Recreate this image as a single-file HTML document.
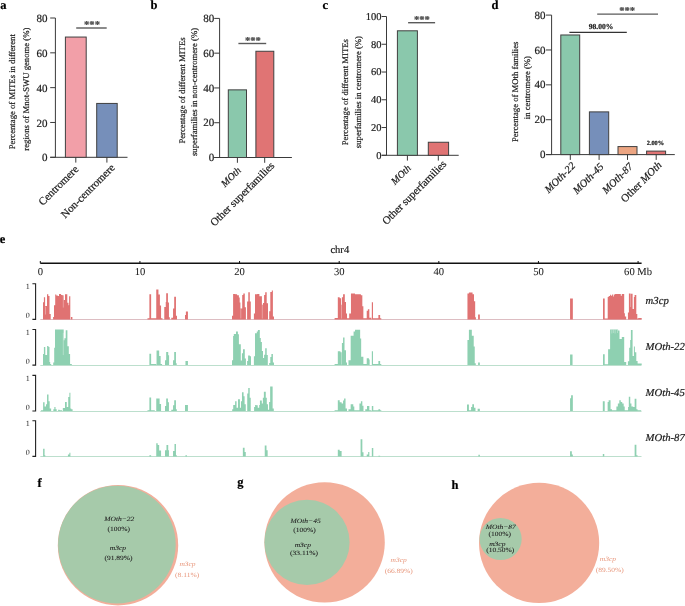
<!DOCTYPE html>
<html><head><meta charset="utf-8"><style>
html,body{margin:0;padding:0;background:#fff;width:685px;height:606px;overflow:hidden}
svg{display:block}
text{text-rendering:geometricPrecision}
</style></head><body>
<svg width="685" height="606" viewBox="0 0 685 606" font-family="'Liberation Serif', 'Times New Roman', serif">
<rect width="685" height="606" fill="#ffffff"/>
<text x="0.30" y="8.90" font-size="12.5" font-weight="bold" fill="#000" stroke="#000" stroke-width="0.2">a</text>
<text x="150.60" y="8.90" font-size="12.5" font-weight="bold" fill="#000" stroke="#000" stroke-width="0.2">b</text>
<text x="322.40" y="8.90" font-size="12.5" font-weight="bold" fill="#000" stroke="#000" stroke-width="0.2">c</text>
<text x="491.50" y="8.90" font-size="12.5" font-weight="bold" fill="#000" stroke="#000" stroke-width="0.2">d</text>
<text x="-0.20" y="242.90" font-size="12.5" font-weight="bold" fill="#000" stroke="#000" stroke-width="0.2">e</text>
<text x="37.60" y="486.70" font-size="12.5" font-weight="bold" fill="#000" stroke="#000" stroke-width="0.2">f</text>
<text x="237.30" y="486.00" font-size="12.5" font-weight="bold" fill="#000" stroke="#000" stroke-width="0.2">g</text>
<text x="451.60" y="488.90" font-size="12.5" font-weight="bold" fill="#000" stroke="#000" stroke-width="0.2">h</text>
<line x1="55.40" y1="18.00" x2="55.40" y2="157.30" stroke="#3a3a3a" stroke-width="1.0"/>
<line x1="50.20" y1="157.30" x2="55.40" y2="157.30" stroke="#3a3a3a" stroke-width="1.0"/>
<text x="47.60" y="161.40" font-size="11" text-anchor="end" fill="#1a1a1a" stroke="#1a1a1a" stroke-width="0.2">0</text>
<line x1="50.20" y1="122.48" x2="55.40" y2="122.48" stroke="#3a3a3a" stroke-width="1.0"/>
<text x="47.60" y="126.58" font-size="11" text-anchor="end" fill="#1a1a1a" stroke="#1a1a1a" stroke-width="0.2">20</text>
<line x1="50.20" y1="87.65" x2="55.40" y2="87.65" stroke="#3a3a3a" stroke-width="1.0"/>
<text x="47.60" y="91.75" font-size="11" text-anchor="end" fill="#1a1a1a" stroke="#1a1a1a" stroke-width="0.2">40</text>
<line x1="50.20" y1="52.83" x2="55.40" y2="52.83" stroke="#3a3a3a" stroke-width="1.0"/>
<text x="47.60" y="56.93" font-size="11" text-anchor="end" fill="#1a1a1a" stroke="#1a1a1a" stroke-width="0.2">60</text>
<line x1="50.20" y1="18.00" x2="55.40" y2="18.00" stroke="#3a3a3a" stroke-width="1.0"/>
<text x="47.60" y="22.10" font-size="11" text-anchor="end" fill="#1a1a1a" stroke="#1a1a1a" stroke-width="0.2">80</text>
<line x1="50.20" y1="157.30" x2="127.50" y2="157.30" stroke="#3a3a3a" stroke-width="1.0"/>
<rect x="65.40" y="37.05" width="20.80" height="120.25" fill="#F29FA8" stroke="#404040" stroke-width="1.0"/>
<rect x="96.70" y="103.43" width="20.50" height="53.87" fill="#768FBA" stroke="#404040" stroke-width="1.0"/>
<line x1="75.80" y1="157.30" x2="75.80" y2="162.60" stroke="#3a3a3a" stroke-width="1.0"/>
<line x1="106.90" y1="157.30" x2="106.90" y2="162.60" stroke="#3a3a3a" stroke-width="1.0"/>
<line x1="76.20" y1="28.00" x2="106.70" y2="28.00" stroke="#5a5a5a" stroke-width="1.4"/>
<text x="92.00" y="28.10" font-size="10.6" text-anchor="middle" font-weight="bold" fill="#444" stroke="#444" stroke-width="0.2">***</text>
<text transform="translate(15.30,91.70) rotate(-90)" text-anchor="middle" font-size="8.7" fill="#1a1a1a" stroke="#1a1a1a" stroke-width="0.2">Percentage of MITEs in different</text>
<text transform="translate(29.00,89.20) rotate(-90)" text-anchor="middle" font-size="8.7" fill="#1a1a1a" stroke="#1a1a1a" stroke-width="0.2">regions of Mnot-SWU genome (%)</text>
<text transform="translate(79.05,169.90) rotate(-45)" text-anchor="end" font-size="10.85" fill="#1a1a1a" stroke="#1a1a1a" stroke-width="0.2">Centromere</text>
<text transform="translate(115.45,168.40) rotate(-45)" text-anchor="end" font-size="10.85" fill="#1a1a1a" stroke="#1a1a1a" stroke-width="0.2">Non-centromere</text>
<line x1="219.60" y1="18.40" x2="219.60" y2="157.50" stroke="#3a3a3a" stroke-width="1.0"/>
<line x1="214.20" y1="157.50" x2="219.60" y2="157.50" stroke="#3a3a3a" stroke-width="1.0"/>
<text x="214.30" y="161.20" font-size="11" text-anchor="end" fill="#1a1a1a" stroke="#1a1a1a" stroke-width="0.2">0</text>
<line x1="214.20" y1="122.72" x2="219.60" y2="122.72" stroke="#3a3a3a" stroke-width="1.0"/>
<text x="214.30" y="126.42" font-size="11" text-anchor="end" fill="#1a1a1a" stroke="#1a1a1a" stroke-width="0.2">20</text>
<line x1="214.20" y1="87.95" x2="219.60" y2="87.95" stroke="#3a3a3a" stroke-width="1.0"/>
<text x="214.30" y="91.65" font-size="11" text-anchor="end" fill="#1a1a1a" stroke="#1a1a1a" stroke-width="0.2">40</text>
<line x1="214.20" y1="53.17" x2="219.60" y2="53.17" stroke="#3a3a3a" stroke-width="1.0"/>
<text x="214.30" y="56.88" font-size="11" text-anchor="end" fill="#1a1a1a" stroke="#1a1a1a" stroke-width="0.2">60</text>
<line x1="214.20" y1="18.40" x2="219.60" y2="18.40" stroke="#3a3a3a" stroke-width="1.0"/>
<text x="214.30" y="22.10" font-size="11" text-anchor="end" fill="#1a1a1a" stroke="#1a1a1a" stroke-width="0.2">80</text>
<line x1="214.20" y1="157.50" x2="291.90" y2="157.50" stroke="#3a3a3a" stroke-width="1.0"/>
<rect x="228.30" y="89.86" width="18.20" height="67.64" fill="#8AC8AC" stroke="#404040" stroke-width="1.0"/>
<rect x="255.90" y="51.26" width="17.90" height="106.24" fill="#E07474" stroke="#404040" stroke-width="1.0"/>
<line x1="237.40" y1="157.50" x2="237.40" y2="162.80" stroke="#3a3a3a" stroke-width="1.0"/>
<line x1="264.70" y1="157.50" x2="264.70" y2="162.80" stroke="#3a3a3a" stroke-width="1.0"/>
<line x1="238.40" y1="43.50" x2="266.20" y2="43.50" stroke="#5a5a5a" stroke-width="1.4"/>
<text x="252.90" y="43.50" font-size="10.6" text-anchor="middle" font-weight="bold" fill="#444" stroke="#444" stroke-width="0.2">***</text>
<text transform="translate(184.60,90.50) rotate(-90)" text-anchor="middle" font-size="8.7" fill="#1a1a1a" stroke="#1a1a1a" stroke-width="0.2">Percentage of different MITEs</text>
<text transform="translate(196.90,92.00) rotate(-90)" text-anchor="middle" font-size="8.7" fill="#1a1a1a" stroke="#1a1a1a" stroke-width="0.2">superfamilies in non-centromere (%)</text>
<text transform="translate(241.60,170.90) rotate(-45)" text-anchor="end" font-size="10" fill="#1a1a1a" stroke="#1a1a1a" stroke-width="0.2"><tspan font-style="italic">MOth</tspan></text>
<text transform="translate(275.10,166.15) rotate(-45)" text-anchor="end" font-size="10.85" fill="#1a1a1a" stroke="#1a1a1a" stroke-width="0.2">Other superfamilies</text>
<line x1="386.50" y1="16.50" x2="386.50" y2="155.30" stroke="#3a3a3a" stroke-width="1.0"/>
<line x1="381.70" y1="155.30" x2="386.50" y2="155.30" stroke="#3a3a3a" stroke-width="1.0"/>
<text x="381.50" y="158.60" font-size="10.5" text-anchor="end" fill="#1a1a1a" stroke="#1a1a1a" stroke-width="0.2">0</text>
<line x1="381.70" y1="127.54" x2="386.50" y2="127.54" stroke="#3a3a3a" stroke-width="1.0"/>
<text x="381.50" y="130.84" font-size="10.5" text-anchor="end" fill="#1a1a1a" stroke="#1a1a1a" stroke-width="0.2">20</text>
<line x1="381.70" y1="99.78" x2="386.50" y2="99.78" stroke="#3a3a3a" stroke-width="1.0"/>
<text x="381.50" y="103.08" font-size="10.5" text-anchor="end" fill="#1a1a1a" stroke="#1a1a1a" stroke-width="0.2">40</text>
<line x1="381.70" y1="72.02" x2="386.50" y2="72.02" stroke="#3a3a3a" stroke-width="1.0"/>
<text x="381.50" y="75.32" font-size="10.5" text-anchor="end" fill="#1a1a1a" stroke="#1a1a1a" stroke-width="0.2">60</text>
<line x1="381.70" y1="44.26" x2="386.50" y2="44.26" stroke="#3a3a3a" stroke-width="1.0"/>
<text x="381.50" y="47.56" font-size="10.5" text-anchor="end" fill="#1a1a1a" stroke="#1a1a1a" stroke-width="0.2">80</text>
<line x1="381.70" y1="16.50" x2="386.50" y2="16.50" stroke="#3a3a3a" stroke-width="1.0"/>
<text x="381.50" y="19.80" font-size="10.5" text-anchor="end" fill="#1a1a1a" stroke="#1a1a1a" stroke-width="0.2">100</text>
<line x1="381.70" y1="155.30" x2="458.70" y2="155.30" stroke="#3a3a3a" stroke-width="1.0"/>
<rect x="397.40" y="30.80" width="20.00" height="124.50" fill="#8AC8AC" stroke="#404040" stroke-width="1.0"/>
<rect x="428.30" y="142.25" width="20.30" height="13.05" fill="#E07474" stroke="#404040" stroke-width="1.0"/>
<line x1="407.40" y1="155.30" x2="407.40" y2="160.60" stroke="#3a3a3a" stroke-width="1.0"/>
<line x1="438.30" y1="155.30" x2="438.30" y2="160.60" stroke="#3a3a3a" stroke-width="1.0"/>
<line x1="408.10" y1="22.70" x2="435.10" y2="22.70" stroke="#5a5a5a" stroke-width="1.4"/>
<text x="421.90" y="22.80" font-size="10.6" text-anchor="middle" font-weight="bold" fill="#444" stroke="#444" stroke-width="0.2">***</text>
<text transform="translate(348.00,92.20) rotate(-90)" text-anchor="middle" font-size="8.7" fill="#1a1a1a" stroke="#1a1a1a" stroke-width="0.2">Percentage of different MITEs</text>
<text transform="translate(361.00,92.10) rotate(-90)" text-anchor="middle" font-size="8.7" fill="#1a1a1a" stroke="#1a1a1a" stroke-width="0.2">superfamilies in centromere (%)</text>
<text transform="translate(411.60,168.70) rotate(-45)" text-anchor="end" font-size="10" fill="#1a1a1a" stroke="#1a1a1a" stroke-width="0.2"><tspan font-style="italic">MOth</tspan></text>
<text transform="translate(447.10,164.55) rotate(-45)" text-anchor="end" font-size="10.85" fill="#1a1a1a" stroke="#1a1a1a" stroke-width="0.2">Other superfamilies</text>
<line x1="551.60" y1="15.10" x2="551.60" y2="154.60" stroke="#3a3a3a" stroke-width="1.0"/>
<line x1="546.00" y1="154.60" x2="551.60" y2="154.60" stroke="#3a3a3a" stroke-width="1.0"/>
<text x="545.60" y="158.15" font-size="11" text-anchor="end" fill="#1a1a1a" stroke="#1a1a1a" stroke-width="0.2">0</text>
<line x1="546.00" y1="119.72" x2="551.60" y2="119.72" stroke="#3a3a3a" stroke-width="1.0"/>
<text x="545.60" y="123.27" font-size="11" text-anchor="end" fill="#1a1a1a" stroke="#1a1a1a" stroke-width="0.2">20</text>
<line x1="546.00" y1="84.85" x2="551.60" y2="84.85" stroke="#3a3a3a" stroke-width="1.0"/>
<text x="545.60" y="88.40" font-size="11" text-anchor="end" fill="#1a1a1a" stroke="#1a1a1a" stroke-width="0.2">40</text>
<line x1="546.00" y1="49.97" x2="551.60" y2="49.97" stroke="#3a3a3a" stroke-width="1.0"/>
<text x="545.60" y="53.52" font-size="11" text-anchor="end" fill="#1a1a1a" stroke="#1a1a1a" stroke-width="0.2">60</text>
<line x1="546.00" y1="15.10" x2="551.60" y2="15.10" stroke="#3a3a3a" stroke-width="1.0"/>
<text x="545.60" y="18.65" font-size="11" text-anchor="end" fill="#1a1a1a" stroke="#1a1a1a" stroke-width="0.2">80</text>
<line x1="546.00" y1="154.60" x2="674.80" y2="154.60" stroke="#3a3a3a" stroke-width="1.0"/>
<rect x="560.80" y="34.98" width="18.90" height="119.62" fill="#8AC8AC" stroke="#404040" stroke-width="1.0"/>
<rect x="589.40" y="111.88" width="19.30" height="42.72" fill="#768FBA" stroke="#404040" stroke-width="1.0"/>
<rect x="618.00" y="146.58" width="19.00" height="8.02" fill="#ECA582" stroke="#404040" stroke-width="1.0"/>
<rect x="646.60" y="151.11" width="19.00" height="3.49" fill="#E07474" stroke="#404040" stroke-width="1.0"/>
<line x1="570.30" y1="154.60" x2="570.30" y2="159.90" stroke="#3a3a3a" stroke-width="1.0"/>
<line x1="599.10" y1="154.60" x2="599.10" y2="159.90" stroke="#3a3a3a" stroke-width="1.0"/>
<line x1="627.50" y1="154.60" x2="627.50" y2="159.90" stroke="#3a3a3a" stroke-width="1.0"/>
<line x1="656.20" y1="154.60" x2="656.20" y2="159.90" stroke="#3a3a3a" stroke-width="1.0"/>
<line x1="569.40" y1="32.40" x2="626.80" y2="32.40" stroke="#333" stroke-width="1.3"/>
<text x="601.10" y="28.60" font-size="7.6" text-anchor="middle" font-weight="bold" fill="#222" stroke="#222" stroke-width="0.2">98.00%</text>
<line x1="597.20" y1="14.10" x2="658.00" y2="14.10" stroke="#5a5a5a" stroke-width="1.4"/>
<text x="627.10" y="14.30" font-size="10.6" text-anchor="middle" font-weight="bold" fill="#444" stroke="#444" stroke-width="0.2">***</text>
<text x="655.40" y="145.00" font-size="6.3" text-anchor="middle" font-weight="bold" fill="#222" stroke="#222" stroke-width="0.2">2.00%</text>
<text transform="translate(518.00,91.80) rotate(-90)" text-anchor="middle" font-size="8.7" fill="#1a1a1a" stroke="#1a1a1a" stroke-width="0.2">Percentage of MOth families</text>
<text transform="translate(530.20,87.60) rotate(-90)" text-anchor="middle" font-size="8.7" fill="#1a1a1a" stroke="#1a1a1a" stroke-width="0.2">in centromere (%)</text>
<text transform="translate(576.00,166.40) rotate(-45)" text-anchor="end" font-size="10.5" fill="#1a1a1a" stroke="#1a1a1a" stroke-width="0.2"><tspan font-style="italic">MOth-22</tspan></text>
<text transform="translate(604.20,167.40) rotate(-45)" text-anchor="end" font-size="10.5" fill="#1a1a1a" stroke="#1a1a1a" stroke-width="0.2"><tspan font-style="italic">MOth-45</tspan></text>
<text transform="translate(633.50,167.10) rotate(-45)" text-anchor="end" font-size="10.5" fill="#1a1a1a" stroke="#1a1a1a" stroke-width="0.2"><tspan font-style="italic">MOth-87</tspan></text>
<text transform="translate(662.35,165.75) rotate(-45)" text-anchor="end" font-size="10.85" fill="#1a1a1a" stroke="#1a1a1a" stroke-width="0.2">Other <tspan font-style="italic">MOth</tspan></text>
<text x="339.80" y="253.00" font-size="10.6" text-anchor="middle" fill="#1a1a1a" stroke="#1a1a1a" stroke-width="0.2">chr4</text>
<line x1="40.30" y1="263.30" x2="641.60" y2="263.30" stroke="#111" stroke-width="1.4"/>
<line x1="40.30" y1="261.00" x2="40.30" y2="263.30" stroke="#111" stroke-width="1.0"/>
<text x="40.30" y="274.90" font-size="10.6" text-anchor="middle" fill="#1a1a1a" stroke="#1a1a1a" stroke-width="0.05">0</text>
<line x1="139.93" y1="261.00" x2="139.93" y2="263.30" stroke="#111" stroke-width="1.0"/>
<text x="139.93" y="274.90" font-size="10.6" text-anchor="middle" fill="#1a1a1a" stroke="#1a1a1a" stroke-width="0.05">10</text>
<line x1="239.56" y1="261.00" x2="239.56" y2="263.30" stroke="#111" stroke-width="1.0"/>
<text x="239.56" y="274.90" font-size="10.6" text-anchor="middle" fill="#1a1a1a" stroke="#1a1a1a" stroke-width="0.05">20</text>
<line x1="339.19" y1="261.00" x2="339.19" y2="263.30" stroke="#111" stroke-width="1.0"/>
<text x="339.19" y="274.90" font-size="10.6" text-anchor="middle" fill="#1a1a1a" stroke="#1a1a1a" stroke-width="0.05">30</text>
<line x1="438.82" y1="261.00" x2="438.82" y2="263.30" stroke="#111" stroke-width="1.0"/>
<text x="438.82" y="274.90" font-size="10.6" text-anchor="middle" fill="#1a1a1a" stroke="#1a1a1a" stroke-width="0.05">40</text>
<line x1="538.45" y1="261.00" x2="538.45" y2="263.30" stroke="#111" stroke-width="1.0"/>
<text x="538.45" y="274.90" font-size="10.6" text-anchor="middle" fill="#1a1a1a" stroke="#1a1a1a" stroke-width="0.05">50</text>
<line x1="638.08" y1="261.00" x2="638.08" y2="263.30" stroke="#111" stroke-width="1.0"/>
<text x="638.08" y="274.90" font-size="10.6" text-anchor="middle" fill="#1a1a1a" stroke="#1a1a1a" stroke-width="0.05">60 Mb</text>
<line x1="40.30" y1="319.50" x2="641.50" y2="319.50" stroke="#DDBDC2" stroke-width="1.0"/>
<path d="M43.00,319.40L43.00,302.20L43.90,302.20L43.90,297.20L45.10,297.20L45.10,306.10L47.00,306.10L47.00,294.20L48.30,294.20L48.30,296.00L49.50,296.00L49.50,314.10L50.70,314.10L50.70,319.40ZM53.10,319.40L53.10,317.10L54.00,317.10L54.00,305.20L55.20,305.20L55.20,294.50L56.30,294.50L56.30,295.40L57.80,295.40L57.80,296.00L59.00,296.00L59.00,293.90L61.10,293.90L61.10,295.10L62.60,295.10L62.60,295.40L63.80,295.40L63.80,299.90L65.00,299.90L65.00,294.20L67.30,294.20L67.30,302.80L68.50,302.80L68.50,305.20L69.10,305.20L69.10,296.30L70.30,296.30L70.30,319.40ZM70.90,319.40L70.90,317.10L72.40,317.10L72.40,319.40ZM147.49,319.40L147.49,318.23L149.39,318.23L149.39,294.30L151.14,294.30L151.14,318.23L156.25,318.23L156.25,289.49L158.44,289.49L158.44,294.60L159.90,294.60L159.90,305.54L161.07,305.54L161.07,318.23L162.53,318.23L162.53,319.40ZM164.28,319.40L164.28,307.00L165.74,307.00L165.74,301.89L166.18,301.89L166.18,293.14L167.93,293.14L167.93,302.62L168.95,302.62L168.95,317.21L169.82,317.21L169.82,319.40ZM171.28,319.40L171.28,317.65L173.04,317.65L173.04,308.46L174.20,308.46L174.20,296.79L175.96,296.79L175.96,315.75L176.98,315.75L176.98,319.40ZM185.01,319.40L185.01,315.02L185.88,315.02L185.88,311.38L187.93,311.38L187.93,319.40ZM232.00,319.40L232.00,315.70L233.10,315.70L233.10,293.90L235.30,293.90L235.30,294.30L237.10,294.30L237.10,295.20L238.90,295.20L238.90,297.40L239.70,297.40L239.70,302.50L240.40,302.50L240.40,308.40L242.20,308.40L242.20,294.90L243.30,294.90L243.30,293.40L244.80,293.40L244.80,307.30L245.90,307.30L245.90,319.40ZM247.10,319.40L247.10,301.40L248.30,301.40L248.30,292.30L249.80,292.30L249.80,301.40L250.80,301.40L250.80,319.40ZM253.90,319.40L253.90,313.50L255.00,313.50L255.00,294.30L257.20,294.30L257.20,294.10L259.40,294.10L259.40,296.30L261.90,296.30L261.90,304.70L263.00,304.70L263.00,302.90L264.10,302.90L264.10,294.90L265.20,294.90L265.20,292.30L266.70,292.30L266.70,303.20L268.00,303.20L268.00,319.40ZM269.20,319.40L269.20,311.30L270.30,311.30L270.30,291.90L271.80,291.90L271.80,290.50L272.90,290.50L272.90,316.40L274.00,316.40L274.00,319.40ZM334.60,319.40L334.60,317.94L337.81,317.94L337.81,297.22L339.71,297.22L339.71,298.24L341.17,298.24L341.17,304.81L341.90,304.81L341.90,297.22L343.07,297.22L343.07,294.16L344.82,294.16L344.82,301.89L345.99,301.89L345.99,313.56L347.01,313.56L347.01,318.23L349.20,318.23L349.20,313.56L350.95,313.56L350.95,293.58L355.04,293.58L355.04,294.16L360.88,294.16L360.88,295.33L362.34,295.33L362.34,306.27L363.36,306.27L363.36,318.23L366.72,318.23L366.72,310.65L367.88,310.65L367.88,309.19L369.34,309.19L369.34,317.65L371.39,317.65L371.39,319.40ZM371.82,319.40L371.82,302.18L372.99,302.18L372.99,318.23L378.39,318.23L378.39,315.02L380.15,315.02L380.15,318.23L381.31,318.23L381.31,319.40ZM467.45,319.40L467.45,293.43L468.91,293.43L468.91,292.41L472.55,292.41L472.55,294.16L474.01,294.16L474.01,301.16L475.18,301.16L475.18,317.21L475.91,317.21L475.91,319.40ZM478.10,319.40L478.10,314.59L479.85,314.59L479.85,319.40ZM570.07,319.40L570.07,298.54L572.85,298.54L572.85,319.40ZM603.00,319.40L603.00,298.40L604.70,298.40L604.70,318.60L607.70,318.60L607.70,297.10L608.70,297.10L608.70,296.10L610.10,296.10L610.10,294.70L611.10,294.70L611.10,295.70L612.10,295.70L612.10,294.50L613.10,294.50L613.10,296.50L613.80,296.50L613.80,294.50L615.10,294.50L615.10,294.10L620.80,294.10L620.80,295.80L621.80,295.80L621.80,294.10L624.20,294.10L624.20,313.20L624.90,313.20L624.90,316.60L626.20,316.60L626.20,319.40ZM627.90,319.40L627.90,312.50L628.90,312.50L628.90,293.40L630.20,293.40L630.20,293.70L631.60,293.70L631.60,293.70L632.60,293.70L632.60,309.00L633.90,309.00L633.90,297.10L634.60,297.10L634.60,295.10L636.30,295.10L636.30,313.90L637.30,313.90L637.30,318.60L638.30,318.60L638.30,317.90L641.70,317.90L641.70,319.40Z" fill="#E07272"/>
<line x1="45.50" y1="306.50" x2="45.50" y2="314.50" stroke="#fff" stroke-opacity="0.55" stroke-width="0.6"/>
<line x1="63.30" y1="296.00" x2="63.30" y2="307.60" stroke="#fff" stroke-opacity="0.55" stroke-width="0.6"/>
<line x1="240.80" y1="308.60" x2="240.80" y2="318.50" stroke="#fff" stroke-opacity="0.55" stroke-width="0.6"/>
<line x1="262.30" y1="305.00" x2="262.30" y2="318.50" stroke="#fff" stroke-opacity="0.55" stroke-width="0.6"/>
<line x1="630.60" y1="294.00" x2="630.60" y2="307.00" stroke="#fff" stroke-opacity="0.55" stroke-width="0.6"/>
<line x1="341.50" y1="297.50" x2="341.50" y2="318.50" stroke="#fff" stroke-opacity="0.55" stroke-width="0.6"/>
<path d="M32.4,283.80H35.6V319.40H32.4" fill="none" stroke="#222" stroke-width="1.1"/>
<text x="27.75" y="288.90" font-size="8" text-anchor="middle" fill="#2a2a2a" stroke="#2a2a2a" stroke-width="0">1</text>
<text x="27.75" y="318.40" font-size="8" text-anchor="middle" fill="#2a2a2a" stroke="#2a2a2a" stroke-width="0">0</text>
<text x="645.60" y="304.00" font-size="10.7" font-style="italic" fill="#1a1a1a" stroke="#1a1a1a" stroke-width="0.2">m3cp</text>
<line x1="40.30" y1="365.50" x2="641.50" y2="365.50" stroke="#BCDFCD" stroke-width="1.0"/>
<path d="M43.00,365.10L43.00,354.10L43.90,354.10L43.90,347.10L45.30,347.10L45.30,355.10L47.10,355.10L47.10,346.00L48.50,346.00L48.50,347.00L49.50,347.00L49.50,361.90L50.20,361.90L50.20,363.90L51.20,363.90L51.20,365.10ZM53.20,365.10L53.20,362.50L54.20,362.50L54.20,347.70L55.00,347.70L55.00,329.50L63.70,329.50L63.70,340.20L64.40,340.20L64.40,338.20L65.70,338.20L65.70,330.20L67.40,330.20L67.40,346.30L68.80,346.30L68.80,354.10L70.10,354.10L70.10,363.90L71.80,363.90L71.80,365.10ZM149.39,365.10L149.39,353.81L151.14,353.81L151.14,363.94L156.25,363.94L156.25,365.10ZM156.54,365.10L156.54,350.48L159.17,350.48L159.17,355.98L160.63,355.98L160.63,363.94L162.09,363.94L162.09,365.10ZM165.01,365.10L165.01,360.32L166.18,360.32L166.18,352.08L168.22,352.08L168.22,355.26L169.09,355.26L169.09,365.10ZM173.04,365.10L173.04,360.32L174.20,360.32L174.20,352.08L175.96,352.08L175.96,363.22L176.69,363.22L176.69,365.10ZM185.45,365.10L185.45,361.05L187.93,361.05L187.93,365.10ZM232.00,365.10L232.00,360.20L233.10,360.20L233.10,336.10L233.80,336.10L233.80,333.90L236.00,333.90L236.00,331.40L237.90,331.40L237.90,334.30L238.90,334.30L238.90,344.20L240.80,344.20L240.80,360.60L241.90,360.60L241.90,353.30L243.00,353.30L243.00,349.30L244.80,349.30L244.80,358.40L245.90,358.40L245.90,365.10ZM247.10,365.10L247.10,361.00L248.10,361.00L248.10,355.50L249.90,355.50L249.90,356.20L251.00,356.20L251.00,365.10ZM253.90,365.10L253.90,356.20L255.00,356.20L255.00,333.20L256.80,333.20L256.80,331.40L257.90,331.40L257.90,329.90L259.80,329.90L259.80,338.00L260.80,338.00L260.80,342.00L261.90,342.00L261.90,351.10L263.00,351.10L263.00,358.00L264.10,358.00L264.10,354.70L265.20,354.70L265.20,348.20L266.70,348.20L266.70,355.10L267.80,355.10L267.80,365.10ZM269.20,365.10L269.20,363.10L270.30,363.10L270.30,356.90L271.40,356.90L271.40,354.00L272.90,354.00L272.90,362.50L274.00,362.50L274.00,365.10ZM334.60,365.10L334.60,363.94L337.81,363.94L337.81,351.21L340.44,351.21L340.44,352.37L341.90,352.37L341.90,342.96L343.07,342.96L343.07,337.60L344.53,337.60L344.53,350.19L345.99,350.19L345.99,362.50L347.01,362.50L347.01,365.10ZM348.47,365.10L348.47,360.32L350.66,360.32L350.66,335.72L353.58,335.72L353.58,331.38L355.04,331.38L355.04,329.64L360.15,329.64L360.15,338.62L361.17,338.62L361.17,356.71L362.34,356.71L362.34,356.71L363.36,356.71L363.36,363.94L366.72,363.94L366.72,358.15L368.91,358.15L368.91,359.60L369.64,359.60L369.64,365.10ZM371.82,365.10L371.82,351.21L372.99,351.21L372.99,363.94L378.39,363.94L378.39,361.05L380.15,361.05L380.15,363.94L381.31,363.94L381.31,365.10ZM467.45,365.10L467.45,340.06L468.91,340.06L468.91,329.64L471.82,329.64L471.82,335.72L473.72,335.72L473.72,346.58L474.74,346.58L474.74,363.22L475.77,363.22L475.77,365.10ZM478.10,365.10L478.10,362.50L479.85,362.50L479.85,365.10ZM570.07,365.10L570.07,354.54L572.55,354.54L572.55,365.10ZM603.00,365.10L603.00,354.20L604.70,354.20L604.70,364.30L608.10,364.30L608.10,349.20L610.10,349.20L610.10,329.50L618.10,329.50L618.10,330.40L619.50,330.40L619.50,339.10L621.80,339.10L621.80,337.10L624.20,337.10L624.20,361.90L626.20,361.90L626.20,365.10ZM627.90,365.10L627.90,361.30L629.20,361.30L629.20,347.80L630.20,347.80L630.20,340.10L630.90,340.10L630.90,330.00L632.60,330.00L632.60,355.90L633.90,355.90L633.90,346.50L634.90,346.50L634.90,352.20L636.30,352.20L636.30,361.00L637.60,361.00L637.60,363.60L641.70,363.60L641.70,365.10Z" fill="#8ED0B1"/>
<line x1="63.30" y1="332.80" x2="63.30" y2="355.10" stroke="#fff" stroke-opacity="0.55" stroke-width="0.6"/>
<line x1="611.80" y1="329.60" x2="611.80" y2="333.50" stroke="#fff" stroke-opacity="0.55" stroke-width="0.6"/>
<line x1="613.40" y1="329.60" x2="613.40" y2="333.00" stroke="#fff" stroke-opacity="0.55" stroke-width="0.6"/>
<line x1="615.10" y1="329.60" x2="615.10" y2="333.50" stroke="#fff" stroke-opacity="0.55" stroke-width="0.6"/>
<line x1="617.50" y1="329.60" x2="617.50" y2="333.00" stroke="#fff" stroke-opacity="0.55" stroke-width="0.6"/>
<line x1="341.50" y1="351.50" x2="341.50" y2="364.50" stroke="#fff" stroke-opacity="0.55" stroke-width="0.6"/>
<path d="M32.4,329.50H35.6V365.10H32.4" fill="none" stroke="#222" stroke-width="1.1"/>
<text x="27.75" y="334.60" font-size="8" text-anchor="middle" fill="#2a2a2a" stroke="#2a2a2a" stroke-width="0">1</text>
<text x="27.75" y="364.10" font-size="8" text-anchor="middle" fill="#2a2a2a" stroke="#2a2a2a" stroke-width="0">0</text>
<text x="645.60" y="349.70" font-size="10.7" font-style="italic" fill="#1a1a1a" stroke="#1a1a1a" stroke-width="0.2">MOth-22</text>
<line x1="40.30" y1="411.50" x2="641.50" y2="411.50" stroke="#BCDFCD" stroke-width="1.0"/>
<path d="M40.92,411.00L40.92,410.28L43.11,410.28L43.11,402.33L44.57,402.33L44.57,406.38L46.03,406.38L46.03,404.21L47.05,404.21L47.05,394.54L48.51,394.54L48.51,401.32L49.68,401.32L49.68,408.54L51.14,408.54L51.14,411.00ZM53.33,411.00L53.33,409.27L54.35,409.27L54.35,407.10L55.52,407.10L55.52,409.27L56.69,409.27L56.69,411.00ZM58.15,411.00L58.15,409.70L59.61,409.70L59.61,410.28L62.09,410.28L62.09,411.00ZM62.82,411.00L62.82,408.11L65.01,408.11L65.01,402.05L66.76,402.05L66.76,407.10L68.22,407.10L68.22,396.99L69.39,396.99L69.39,392.66L70.41,392.66L70.41,408.54L71.28,408.54L71.28,409.27L72.60,409.27L72.60,411.00ZM147.49,411.00L147.49,410.28L149.39,410.28L149.39,397.42L151.14,397.42L151.14,410.28L154.79,410.28L154.79,411.00ZM156.25,411.00L156.25,398.44L159.61,398.44L159.61,403.92L161.07,403.92L161.07,411.00ZM165.01,411.00L165.01,405.95L166.18,405.95L166.18,398.44L167.93,398.44L167.93,402.33L168.95,402.33L168.95,411.00ZM171.28,411.00L171.28,409.70L173.04,409.70L173.04,405.37L174.20,405.37L174.20,400.31L175.96,400.31L175.96,409.27L176.83,409.27L176.83,411.00ZM185.01,411.00L185.01,404.93L187.93,404.93L187.93,411.00ZM232.19,411.00L232.19,409.27L233.21,409.27L233.21,404.93L235.11,404.93L235.11,401.32L236.57,401.32L236.57,407.82L238.03,407.82L238.03,399.16L239.93,399.16L239.93,407.82L240.95,407.82L240.95,401.32L241.97,401.32L241.97,392.23L243.58,392.23L243.58,396.27L244.60,396.27L244.60,404.21L245.77,404.21L245.77,411.00ZM247.23,411.00L247.23,393.38L248.25,393.38L248.25,388.04L249.71,388.04L249.71,397.71L250.73,397.71L250.73,411.00ZM254.09,411.00L254.09,407.10L255.11,407.10L255.11,404.93L256.28,404.93L256.28,405.37L257.74,405.37L257.74,407.82L259.20,407.82L259.20,404.93L259.93,404.93L259.93,400.60L261.82,400.60L261.82,403.49L262.85,403.49L262.85,397.71L263.87,397.71L263.87,391.65L265.77,391.65L265.77,397.71L266.79,397.71L266.79,404.21L267.96,404.21L267.96,409.70L269.12,409.70L269.12,402.05L270.15,402.05L270.15,386.45L272.63,386.45L272.63,408.54L273.80,408.54L273.80,411.00ZM334.60,411.00L334.60,410.28L337.81,410.28L337.81,400.17L339.71,400.17L339.71,402.33L341.61,402.33L341.61,403.49L343.07,403.49L343.07,400.60L344.09,400.60L344.09,398.44L345.55,398.44L345.55,408.54L347.01,408.54L347.01,411.00ZM348.47,411.00L348.47,409.27L350.66,409.27L350.66,404.21L353.28,404.21L353.28,406.38L354.31,406.38L354.31,410.28L359.42,410.28L359.42,403.49L360.88,403.49L360.88,401.32L362.34,401.32L362.34,405.66L363.50,405.66L363.50,411.00ZM365.26,411.00L365.26,409.27L367.01,409.27L367.01,405.95L369.34,405.95L369.34,410.28L371.39,410.28L371.39,411.00ZM371.82,411.00L371.82,405.95L373.28,405.95L373.28,410.28L378.39,410.28L378.39,409.27L380.15,409.27L380.15,410.28L381.31,410.28L381.31,411.00ZM467.01,411.00L467.01,404.50L468.91,404.50L468.91,410.28L471.09,410.28L471.09,407.10L472.26,407.10L472.26,404.21L474.01,404.21L474.01,407.82L475.47,407.82L475.47,411.00ZM477.66,411.00L477.66,408.83L479.85,408.83L479.85,411.00ZM570.07,411.00L570.07,398.15L571.09,398.15L571.09,395.26L572.85,395.26L572.85,411.00ZM602.81,411.00L602.81,401.32L604.71,401.32L604.71,411.00ZM607.63,411.00L607.63,402.05L608.65,402.05L608.65,400.31L610.55,400.31L610.55,409.27L612.01,409.27L612.01,410.28L616.39,410.28L616.39,406.38L617.85,406.38L617.85,403.49L619.31,403.49L619.31,400.31L620.77,400.31L620.77,402.05L622.23,402.05L622.23,403.49L623.69,403.49L623.69,406.38L624.71,406.38L624.71,410.28L628.07,410.28L628.07,407.10L628.80,407.10L628.80,396.70L630.26,396.70L630.26,403.49L631.42,403.49L631.42,406.38L633.18,406.38L633.18,407.10L634.64,407.10L634.64,398.87L636.39,398.87L636.39,409.27L637.55,409.27L637.55,410.28L641.20,410.28L641.20,411.00Z" fill="#8ED0B1"/>
<path d="M32.4,375.40H35.6V411.00H32.4" fill="none" stroke="#222" stroke-width="1.1"/>
<text x="27.75" y="380.50" font-size="8" text-anchor="middle" fill="#2a2a2a" stroke="#2a2a2a" stroke-width="0">1</text>
<text x="27.75" y="410.00" font-size="8" text-anchor="middle" fill="#2a2a2a" stroke="#2a2a2a" stroke-width="0">0</text>
<text x="645.60" y="395.60" font-size="10.7" font-style="italic" fill="#1a1a1a" stroke="#1a1a1a" stroke-width="0.2">MOth-45</text>
<line x1="40.30" y1="456.50" x2="641.50" y2="456.50" stroke="#BCDFCD" stroke-width="1.0"/>
<path d="M43.11,456.40L43.11,448.73L44.57,448.73L44.57,455.24L45.30,455.24L45.30,456.40ZM67.93,456.40L67.93,454.52L69.39,454.52L69.39,452.64L70.41,452.64L70.41,456.40ZM149.39,456.40L149.39,455.24L151.14,455.24L151.14,456.40ZM156.25,456.40L156.25,443.23L157.71,443.23L157.71,445.11L159.17,445.11L159.17,450.47L161.07,450.47L161.07,456.40ZM165.01,456.40L165.01,450.18L166.47,450.18L166.47,445.11L168.22,445.11L168.22,450.18L168.95,450.18L168.95,456.40ZM173.04,456.40L173.04,450.90L174.50,450.90L174.50,444.10L175.96,444.10L175.96,455.24L176.83,455.24L176.83,456.40ZM185.45,456.40L185.45,455.24L186.91,455.24L186.91,456.40ZM242.85,456.40L242.85,447.72L244.60,447.72L244.60,452.06L245.77,452.06L245.77,456.40ZM264.74,456.40L264.74,445.40L266.50,445.40L266.50,450.18L267.66,450.18L267.66,456.40ZM337.81,456.40L337.81,449.74L339.71,449.74L339.71,450.90L341.61,450.90L341.61,456.40ZM360.58,456.40L360.58,439.32L362.34,439.32L362.34,452.35L363.50,452.35L363.50,456.40ZM366.72,456.40L366.72,454.52L368.18,454.52L368.18,452.06L369.34,452.06L369.34,456.40ZM371.82,456.40L371.82,448.01L373.28,448.01L373.28,456.40ZM378.39,456.40L378.39,455.68L380.15,455.68L380.15,456.40ZM478.39,456.40L478.39,454.66L479.85,454.66L479.85,456.40ZM570.07,456.40L570.07,451.33L571.82,451.33L571.82,454.52L572.85,454.52L572.85,456.40ZM602.81,456.40L602.81,454.08L604.27,454.08L604.27,456.40ZM634.64,456.40L634.64,444.82L636.39,444.82L636.39,455.24L637.55,455.24L637.55,456.40Z" fill="#8ED0B1"/>
<path d="M32.4,420.80H35.6V456.40H32.4" fill="none" stroke="#222" stroke-width="1.1"/>
<text x="27.75" y="425.90" font-size="8" text-anchor="middle" fill="#2a2a2a" stroke="#2a2a2a" stroke-width="0">1</text>
<text x="27.75" y="455.40" font-size="8" text-anchor="middle" fill="#2a2a2a" stroke="#2a2a2a" stroke-width="0">0</text>
<text x="645.60" y="441.00" font-size="10.7" font-style="italic" fill="#1a1a1a" stroke="#1a1a1a" stroke-width="0.2">MOth-87</text>
<circle cx="118.00" cy="545.20" r="60.20" fill="#F3AE9A"/>
<circle cx="116.90" cy="544.60" r="58.80" fill="#A6CAAA"/>
<text x="0.00" y="0.00" font-size="7.5" text-anchor="middle" font-style="italic" fill="#222" stroke="#222" stroke-width="0.08" transform="translate(119.25,520.90) scale(1,0.87)">MOth−22</text>
<text x="0.00" y="0.00" font-size="7.5" text-anchor="middle" fill="#222" stroke="#222" stroke-width="0.08" transform="translate(118.80,531.20) scale(1,0.87)">(100%)</text>
<text x="0.00" y="0.00" font-size="7.5" text-anchor="middle" font-style="italic" fill="#222" stroke="#222" stroke-width="0.08" transform="translate(117.90,550.00) scale(1,0.87)">m3cp</text>
<text x="0.00" y="0.00" font-size="7.5" text-anchor="middle" fill="#222" stroke="#222" stroke-width="0.08" transform="translate(118.55,560.40) scale(1,0.87)">(91.89%)</text>
<text x="0.00" y="0.00" font-size="7.5" text-anchor="middle" font-style="italic" fill="#E8977C" stroke="#E8977C" stroke-width="0" transform="translate(187.50,565.90) scale(1,0.87)">m3cp</text>
<text x="0.00" y="0.00" font-size="7.5" text-anchor="middle" fill="#E8977C" stroke="#E8977C" stroke-width="0" transform="translate(187.10,577.40) scale(1,0.87)">(8.11%)</text>
<circle cx="324.60" cy="542.40" r="60.20" fill="#F3AE9A"/>
<circle cx="307.00" cy="542.30" r="42.60" fill="#A6CAAA"/>
<text x="0.00" y="0.00" font-size="7.5" text-anchor="middle" font-style="italic" fill="#222" stroke="#222" stroke-width="0.08" transform="translate(305.60,523.10) scale(1,0.87)">MOth−45</text>
<text x="0.00" y="0.00" font-size="7.5" text-anchor="middle" fill="#222" stroke="#222" stroke-width="0.08" transform="translate(304.60,532.00) scale(1,0.87)">(100%)</text>
<text x="0.00" y="0.00" font-size="7.5" text-anchor="middle" font-style="italic" fill="#222" stroke="#222" stroke-width="0.08" transform="translate(302.80,546.80) scale(1,0.87)">m3cp</text>
<text x="0.00" y="0.00" font-size="7.5" text-anchor="middle" fill="#222" stroke="#222" stroke-width="0.08" transform="translate(304.00,555.40) scale(1,0.87)">(33.11%)</text>
<text x="0.00" y="0.00" font-size="7.5" text-anchor="middle" font-style="italic" fill="#E8977C" stroke="#E8977C" stroke-width="0" transform="translate(398.70,562.30) scale(1,0.87)">m3cp</text>
<text x="0.00" y="0.00" font-size="7.5" text-anchor="middle" fill="#E8977C" stroke="#E8977C" stroke-width="0" transform="translate(398.70,573.30) scale(1,0.87)">(66.89%)</text>
<circle cx="539.10" cy="542.90" r="60.10" fill="#F3AE9A"/>
<circle cx="500.60" cy="539.00" r="21.10" fill="#A6CAAA"/>
<text x="0.00" y="0.00" font-size="7.5" text-anchor="middle" font-style="italic" fill="#222" stroke="#222" stroke-width="0.08" transform="translate(500.80,528.80) scale(1,0.87)">MOth−87</text>
<text x="0.00" y="0.00" font-size="7.5" text-anchor="middle" fill="#222" stroke="#222" stroke-width="0.08" transform="translate(499.70,535.60) scale(1,0.87)">(100%)</text>
<text x="0.00" y="0.00" font-size="7.5" text-anchor="middle" font-style="italic" fill="#222" stroke="#222" stroke-width="0.08" transform="translate(497.30,546.40) scale(1,0.87)">m3cp</text>
<text x="0.00" y="0.00" font-size="7.5" text-anchor="middle" fill="#222" stroke="#222" stroke-width="0.08" transform="translate(500.20,551.90) scale(1,0.87)">(10.50%)</text>
<text x="0.00" y="0.00" font-size="7.5" text-anchor="middle" font-style="italic" fill="#E8977C" stroke="#E8977C" stroke-width="0" transform="translate(607.90,561.40) scale(1,0.87)">m3cp</text>
<text x="0.00" y="0.00" font-size="7.5" text-anchor="middle" fill="#E8977C" stroke="#E8977C" stroke-width="0" transform="translate(609.70,572.10) scale(1,0.87)">(89.50%)</text>
</svg>
</body></html>
